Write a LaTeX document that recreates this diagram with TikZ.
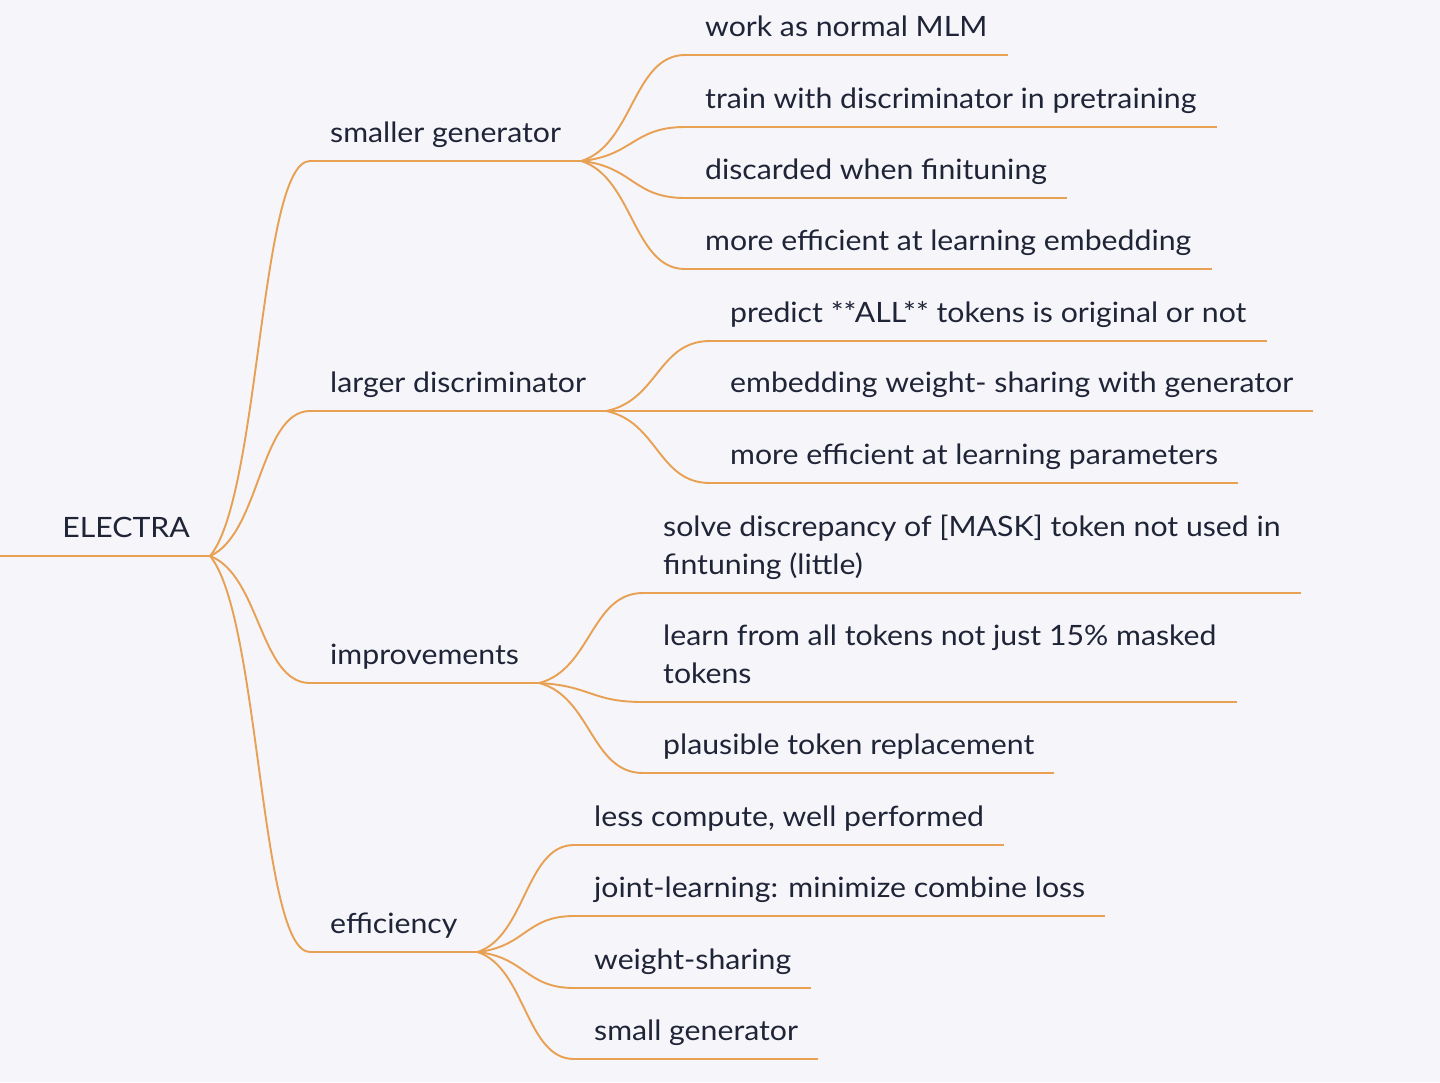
\documentclass[tikz,border=0pt]{standalone}
\usepackage{fontspec}
\setmainfont{Lato}[FakeStretch=1.08]
\usetikzlibrary{calc}
\definecolor{mapbg}{HTML}{F5F5FA}
\definecolor{mapline}{HTML}{E8A052}
\definecolor{maptext}{HTML}{1F2437}
\begin{document}
\begin{tikzpicture}[
    x=1pt, y=-1pt,
    topic/.style={anchor=south west, inner xsep=20pt, inner ysep=0pt,
      text depth=18pt, align=left, text=maptext,
      font=\fontsize{28}{38}\selectfont},
    uline/.style={draw=mapline, line width=1.9pt},
    branch/.style={draw=mapline, line width=1.9pt, to path={
      let \p1=(\tikztostart), \p2=(\tikztotarget) in
      .. controls (\x1/2+\x2/2, 0.85*\y1+0.15*\y2)
         and (\x1/2+\x2/2, \y2) .. (\tikztotarget)}}
  ]
    \fill[mapbg] (0,0) rectangle (1440,1082);
    \useasboundingbox (0,0) rectangle (1440,1082);

    % root
    \coordinate (start) at (0,556);
    \node[topic, anchor=south east] (electra) at (210,556) {ELECTRA};

    % first level
    \node[topic] (gen) at (310,161) {smaller generator};
    \node[topic] (disc) at (310,411) {larger discriminator};
    \node[topic] (impr) at (310,683) {improvements};
    \node[topic] (eff) at (310,952) {efficiency};

    % smaller generator
    \node[topic] (mlm) at (685,55) {work as normal MLM};
    \node[topic] (train) at (685,127) {train with discriminator in pretraining};
    \node[topic] (discard) at (685,198) {discarded when finituning};
    \node[topic] (embed) at (685,269) {more efficient at learning embedding};

    % larger discriminator
    \node[topic] (predict) at (710,341) {predict **ALL** tokens is original or not};
    \node[topic] (share) at (710,411) {embedding weight- sharing with generator};
    \node[topic] (param) at (710,483) {more efficient at learning parameters};

    % improvements
    \node[topic] (discrep) at (643,593) {solve discrepancy of [MASK] token not used in\\fintuning (little)};
    \node[topic] (learn) at (643,702) {learn from all tokens not just 15\% masked\\tokens};
    \node[topic] (plaus) at (643,773) {plausible token replacement};

    % efficiency
    \node[topic] (compute) at (574,845) {less compute, well performed};
    \node[topic] (joint) at (574,916) {joint-learning: minimize combine loss};
    \node[topic] (wshare) at (574,988) {weight-sharing};
    \node[topic] (small) at (574,1059) {small generator};

    \draw[uline] (start) -- (electra.south east);
    \foreach \n in {gen,disc,impr,eff,mlm,train,discard,embed,predict,share,
        param,discrep,learn,plaus,compute,joint,wshare,small}
      \draw[uline] (\n.south west) -- (\n.south east);

    \foreach \a/\b in {electra/gen,electra/disc,electra/impr,electra/eff,
        gen/mlm,gen/train,gen/discard,gen/embed,
        disc/predict,disc/share,disc/param,
        impr/discrep,impr/learn,impr/plaus,
        eff/compute,eff/joint,eff/wshare,eff/small}
      \draw[branch] (\a.south east) to (\b.south west);
  \end{tikzpicture}
\end{document}
